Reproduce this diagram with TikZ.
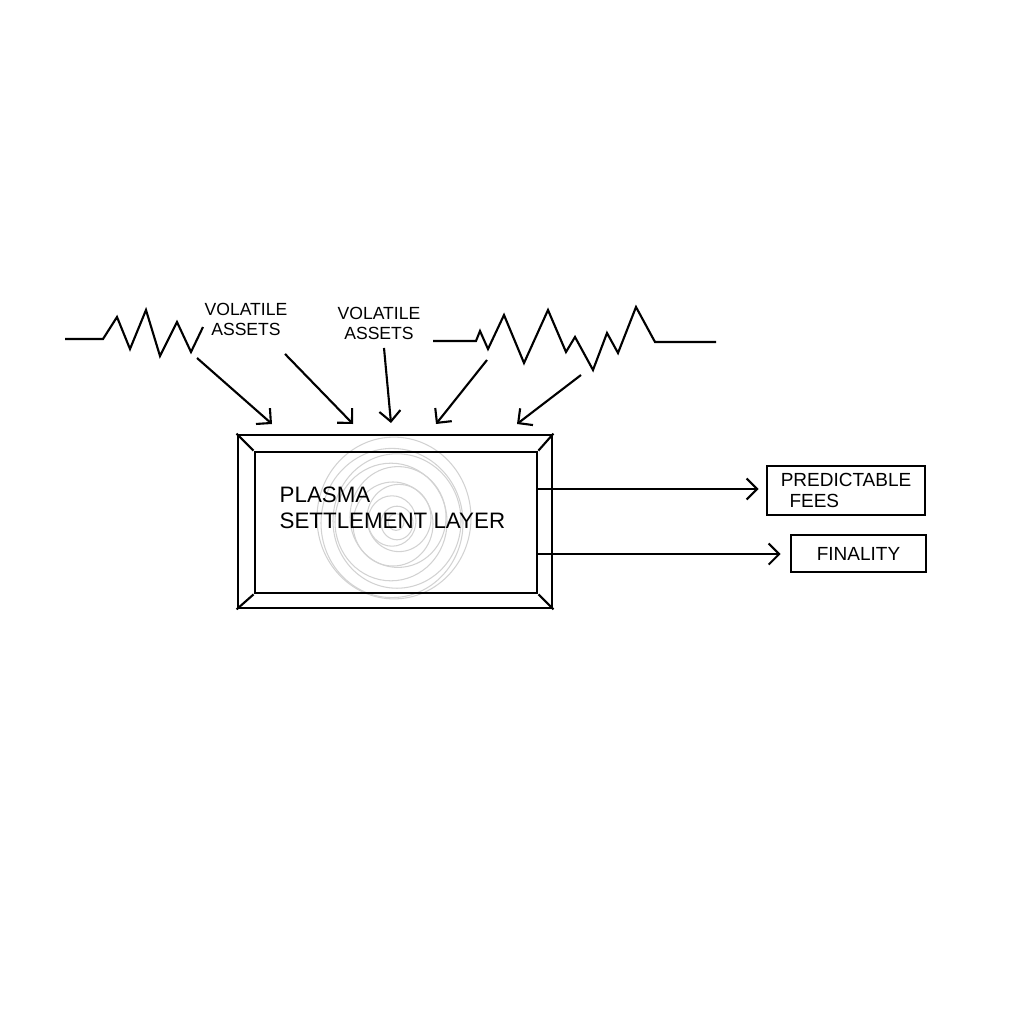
\documentclass[tikz,border=0pt]{standalone}
\usepackage{fontspec}
\setmainfont{Liberation Sans}
\usetikzlibrary{arrows.meta,positioning,calc}

\begin{document}
\begin{tikzpicture}[x=0.01cm, y=-0.01cm,
        frame/.style={draw, line width=0.75pt, minimum width=3.14cm, minimum height=1.73cm},
        core/.style={draw, line width=0.75pt, minimum width=2.82cm, minimum height=1.41cm},
        outcome/.style={draw, line width=0.7pt, align=left, inner sep=0pt, font=\fontsize{5.4}{6.2}\selectfont},
        cue/.style={align=center, inner sep=0pt, font=\fontsize{5}{5.7}\selectfont},
        wave/.style={line width=0.6pt, line join=miter},
        arrow/.style={-{Straight Barb[length=3pt,width=6pt]}, line width=0.6pt},
        swirl/.style={draw=gray!35, line width=0.3pt}
    ]
    \useasboundingbox (0,0) rectangle (1024,1024);
    % Swirl behind the layer
    \foreach \r/\dx/\dy in {8/1/2, 16/2/3, 24/-3/1, 32/4/-2, 40/-2/4, 48/3/-3, 56/-4/2, 64/2/1, 71/-3/3, 77/-1/-2}
        \draw[swirl] (395+\dx,520+\dy) ellipse ({\r*0.01cm} and {\r*0.0105cm});
    % Nodes
    \node[frame] (layer) at (395,521.5) {};
    \node[core] (core) at (396,522.5) {};
    \node[anchor=west, align=left, inner sep=0pt, font=\fontsize{6.35}{7.4}\selectfont] (plasma) at (279,508) {PLASMA\\SETTLEMENT LAYER};
    \node[cue] (vol1) at (246,319) {VOLATILE\\ASSETS};
    \node[cue] (vol2) at (379,323) {VOLATILE\\ASSETS};
    \node[outcome, minimum width=1.58cm, minimum height=0.49cm] (fees) at (846,490.5) {PREDICTABLE\\\hspace{2.5pt}FEES};
    \node[outcome, minimum width=1.35cm, minimum height=0.37cm] (finality) at (858.5,553.5) {FINALITY};
    % Bevel
    \draw[line width=0.6pt] (layer.north west) -- (core.north west);
    \draw[line width=0.6pt] (layer.north east) -- (core.north east);
    \draw[line width=0.6pt] (layer.south west) -- (core.south west);
    \draw[line width=0.6pt] (layer.south east) -- (core.south east);
    % Price waves
    \draw[wave] (65,339) -- (103,339) -- (117,317) -- (130,349) -- (146,310) -- (160,356) -- (177,322) -- (191,352) -- (203,327);
    \draw[wave] (433,341) -- (476,341) -- (480,331) -- (488,349) -- (504,315) -- (524,363) -- (548,310) -- (566,352) -- (575,337) -- (593,370) -- (607,333) -- (618,353) -- (636,307) -- (655,342) -- (716,342);
    % Inflows
    \coordinate (s1) at (197,358);
    \coordinate (s4) at (487,360);
    \coordinate (s5) at (581,375);
    \coordinate (t1) at (272,424);
    \coordinate (t2) at (353,424);
    \coordinate (t3) at (391,423);
    \coordinate (t4) at (436,424);
    \coordinate (t5) at (517,424);
    \draw[arrow] (s1) -- (t1);
    \draw[arrow] ([shift={(0.39cm,-0.18cm)}]vol1.south) -- (t2);
    \draw[arrow] ([shift={(0.05cm,-0.08cm)}]vol2.south) -- (t3);
    \draw[arrow] (s4) -- (t4);
    \draw[arrow] (s5) -- (t5);
    % Outflows
    \draw[arrow] (core.east |- 0,489) -- ([xshift=-0.07cm]fees.west |- 0,489);
    \draw[arrow] (core.east |- 0,554) -- ([xshift=-0.09cm]finality.west |- 0,554);
\end{tikzpicture}
\end{document}
